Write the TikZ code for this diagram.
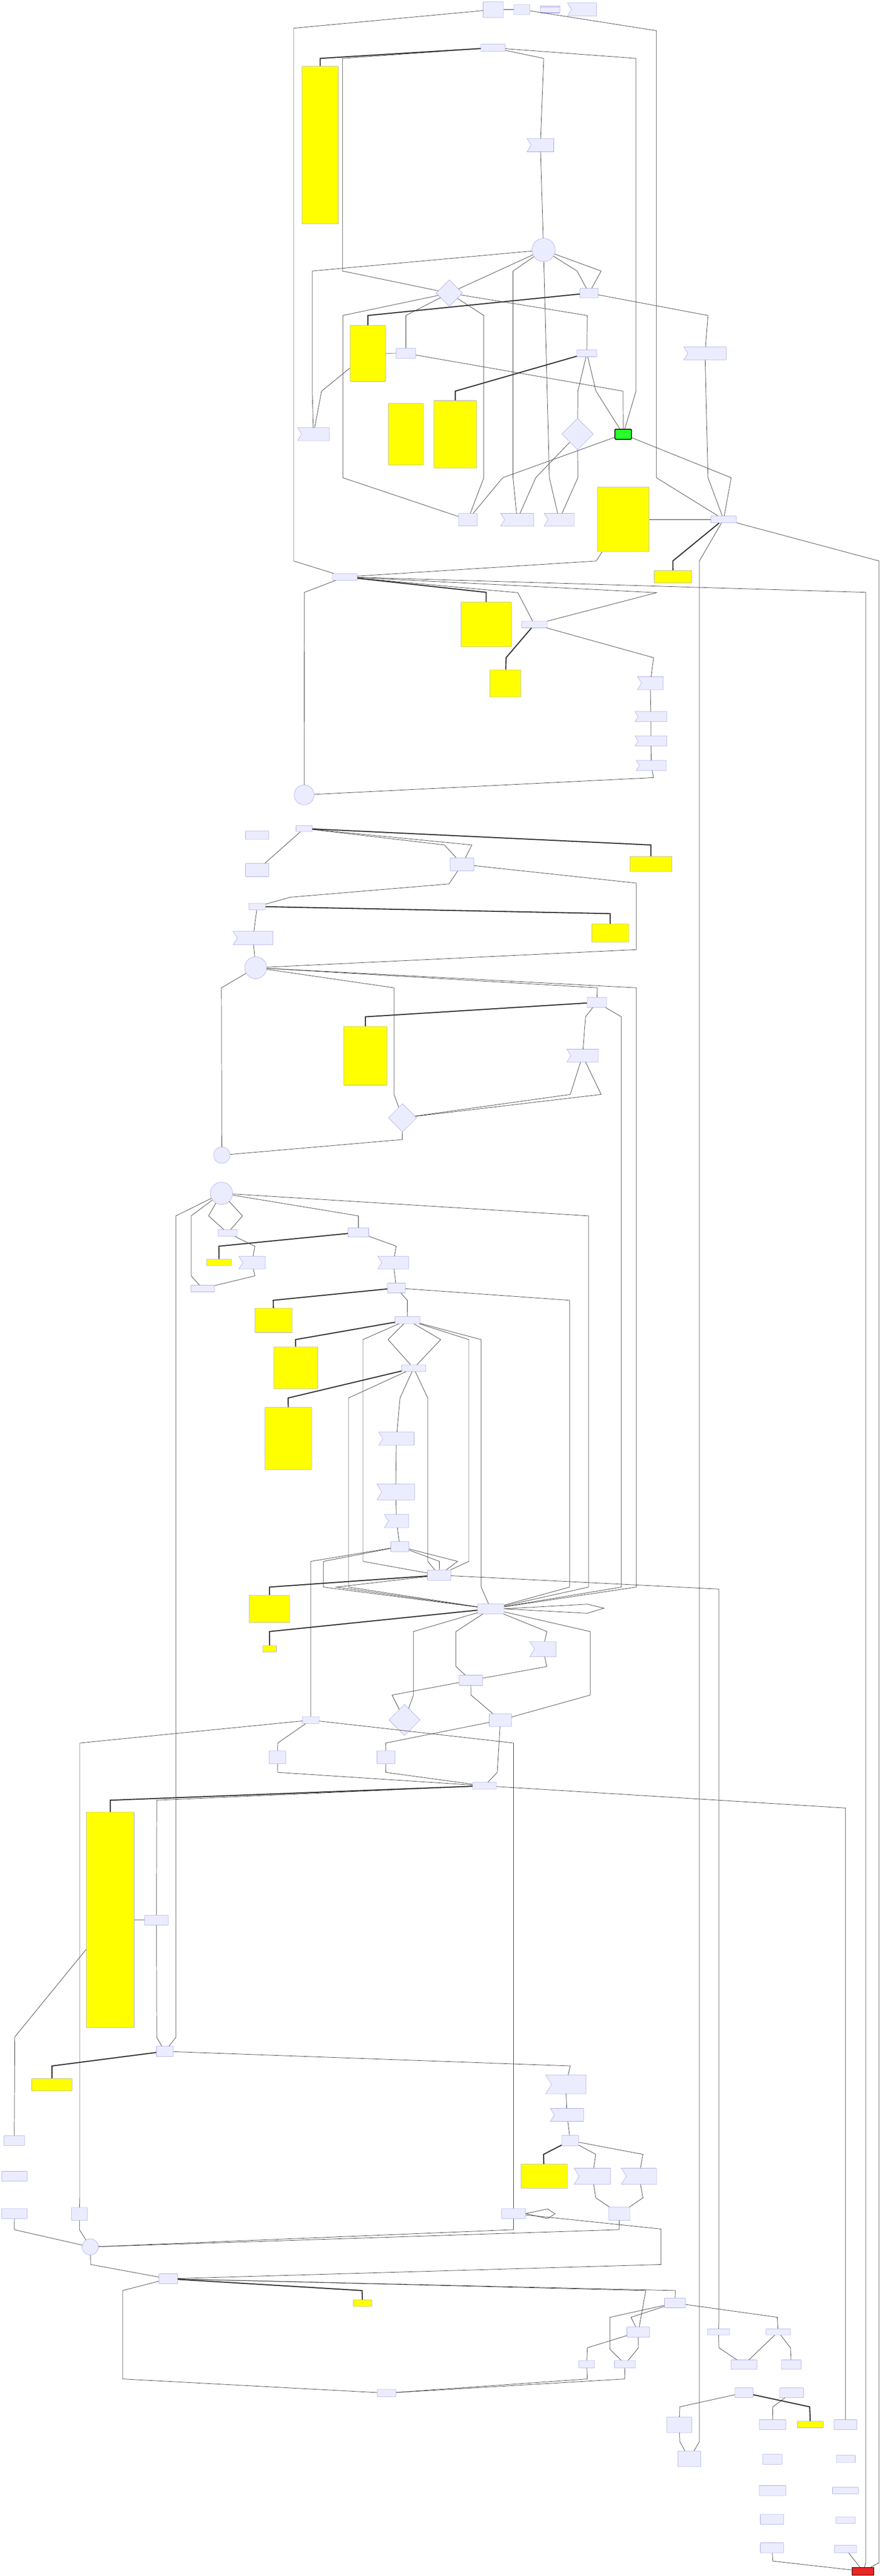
\documentclass[tikz,border=0pt]{standalone}
\usetikzlibrary{shapes.geometric}
\definecolor{lav}{RGB}{236,236,255}
\definecolor{lavd}{RGB}{168,168,232}
\definecolor{ln}{RGB}{51,51,51}
\definecolor{yel}{RGB}{255,255,0}
\definecolor{grn}{RGB}{40,255,40}
\definecolor{rd}{RGB}{230,40,40}
\tikzset{
 bx/.style={draw=lavd,fill=lav,line width=0.8pt,rounded corners=1pt,inner sep=0pt},
 yb/.style={draw=lavd,fill=yel,line width=0.8pt,rounded corners=1pt,inner sep=0pt},
 gbx/.style={draw=black,fill=grn,line width=2pt,rounded corners=2pt,inner sep=0pt},
 rbx/.style={draw=black,fill=rd,line width=1.2pt,inner sep=0pt},
 flagst/.style={draw=lavd,fill=lav,line width=0.8pt},
 e/.style={draw=ln,line width=0.9pt},
 t/.style={draw=ln,line width=2.6pt},
}
\newcommand\Nbox[5]{\node[bx,minimum width=#4*4pt,minimum height=#5*4pt] (#1) at (#2,#3) {};}
\newcommand\Nyel[5]{\node[yb,minimum width=#4*4pt,minimum height=#5*4pt] (#1) at (#2,#3) {};}
\newcommand\Ngreen[5]{\node[gbx,minimum width=#4*4pt,minimum height=#5*4pt] (#1) at (#2,#3) {};}
\newcommand\Nred[5]{\node[rbx,minimum width=#4*4pt,minimum height=#5*4pt] (#1) at (#2,#3) {};}
\newcommand\Nflag[5]{\node[inner sep=0pt,minimum width=#4*4pt,minimum height=#5*4pt] (#1) at (#2,#3) {};
 \path[flagst] (#1.north west) -- (#1.north east) -- (#1.south east) -- (#1.south west) -- ([xshift=#5*1.3pt]#1.west) -- cycle;}
\newcommand\Ncirc[4]{\node[circle,draw=lavd,fill=lav,line width=0.8pt,inner sep=0pt,minimum size=#4*4pt] (#1) at (#2,#3) {};}
\newcommand\Ndia[5]{\node[diamond,aspect=1,draw=lavd,fill=lav,line width=0.8pt,inner sep=0pt,minimum width=#4*4pt,minimum height=#5*4pt] (#1) at (#2,#3) {};}
\begin{document}
\begin{tikzpicture}[x=4pt,y=-4pt]
\useasboundingbox[fill=white] (0,0) rectangle (536.25,1553);
% nodes
\Nbox{n1}{297.3}{5.8}{12.2}{9.5}
\Nbox{n2}{314.5}{5.75}{9.6}{6}
\Nbox{n3}{331.6}{5.7}{11.8}{4.4}
\draw[lavd,line width=0.6pt] ([yshift=-2.5pt]n3.north west) -- ([yshift=-2.5pt]n3.north east) ([yshift=2.5pt]n3.south west) -- ([yshift=2.5pt]n3.south east);
\Nflag{n4}{350.8}{5.7}{17.5}{7.8}
\Nbox{n5}{297.1}{28.8}{14.7}{4.3}
\Nyel{Y1}{193}{87.5}{22}{95}
\Nflag{n6}{325.7}{87.5}{16}{7.8}
\Ncirc{C1}{327.6}{150.7}{14}
\Ndia{D1}{270.8}{176.7}{16}{16}
\Nbox{B1}{355}{176.7}{11}{5.7}
\Nyel{Y2}{221.7}{213.1}{21.4}{33.8}
\Nbox{B2}{244.6}{213}{11.7}{6.1}
\Nbox{B3}{353.7}{213}{11.9}{4.2}
\Nflag{F2}{424.9}{213}{25.5}{7.7}
\Nflag{F1}{188.9}{261.7}{19}{7.7}
\Nyel{Y3}{244.6}{261.8}{21}{37.2}
\Nyel{Y4}{274.4}{261.9}{25.8}{40.8}
\Ndia{D2}{348.1}{261.7}{19}{19}
\Ngreen{G}{375.6}{261.8}{10}{6.1}
\Nbox{B5}{282}{313.3}{11.2}{7.5}
\Nflag{F3}{311.7}{313.3}{19.8}{7.5}
\Nflag{F4}{337}{313.3}{18}{7.5}
\Nyel{Y5}{375.6}{313.1}{31}{39}
\Nbox{B6}{436.1}{313.1}{15.3}{4.2}
\Nbox{B7}{207.8}{347.8}{15}{4}
\Nyel{Y6}{405.6}{347.7}{22.6}{7.6}
\Nyel{Y7}{293}{376.5}{30.4}{27}
\Nbox{B8}{322.1}{376.5}{15.4}{3.9}
\Nyel{Y8}{304.6}{412}{18.6}{16.4}
\Nflag{F5}{391.9}{411.9}{15.4}{7.8}
\Nflag{F6}{392.3}{432}{19.1}{6}
\Nflag{F7}{392.3}{446.7}{19}{6}
\Nflag{F8}{392.5}{461.5}{18}{6}
\Ncirc{C2}{183.3}{479.2}{12}
\Nbox{B12}{155}{503.5}{14}{5}
\Nbox{B9}{183.3}{499.5}{9.7}{3.7}
\Nbox{B11}{155}{524.5}{14}{8}
\Nbox{B10}{278.5}{521.1}{14.3}{7.8}
\Nyel{Y9}{392.3}{520.9}{25.3}{9.2}
\Nbox{B13}{155}{546.5}{10}{4}
\Nyel{Y10}{367.8}{562.5}{22.3}{11.1}
\Nflag{F9}{152.5}{565.5}{24}{8}
\Ncirc{C3}{154.1}{583.4}{13.2}
\Nbox{B14}{359.7}{604.3}{11.8}{6}
\Nyel{Y11}{220.2}{636.5}{26.1}{35.5}
\Nflag{F10}{351.1}{636.4}{18.8}{7.6}
\Ndia{D3}{242.6}{673.9}{17}{17}
\Ncirc{C4}{133.7}{696.4}{9.8}
\Ncirc{C5}{133.5}{719.4}{13.4}
\Nbox{B16}{137.2}{743.3}{11.4}{4}
\Nbox{B17}{216}{743}{12.5}{5.5}
\Nyel{Y12}{132}{761.1}{14.9}{4}
\Nflag{F11}{151.9}{761.2}{15.8}{7.6}
\Nflag{F12}{237}{761.2}{18.5}{7.6}
\Nbox{B15}{122.1}{776.8}{14.2}{4}
\Nbox{B18}{238.9}{776.5}{10.7}{5.9}
\Nyel{Y13}{164.9}{796}{22.5}{14.7}
\Nbox{B19}{245.6}{795.8}{15.1}{4.3}
\Nyel{Y14}{178.3}{824.6}{26.5}{25.3}
\Nbox{B20}{249.3}{824.8}{14.5}{4}
\Nyel{Y15}{173.8}{867.2}{28.3}{37.5}
\Nflag{F13}{238.9}{867.3}{21.2}{7.8}
\Nflag{F14}{238.5}{899.5}{22.6}{9.4}
\Nflag{F15}{239}{917}{14.5}{7.8}
\Nbox{B21}{241}{932.4}{10.8}{6.2}
\Nbox{B22}{264.7}{949.6}{14.1}{6.2}
\Nyel{Y16}{162.4}{969.9}{24.4}{16.5}
\Nbox{B23}{295.8}{969.9}{16}{6}
\Nyel{Y17}{162.5}{994}{8.3}{4}
\Nflag{F16}{327.2}{994.2}{15.8}{9.1}
\Nbox{B24}{283.8}{1013}{14.1}{6.2}
\Nbox{B27}{187.3}{1037}{10}{4.1}
\Ndia{D4}{243.8}{1036.9}{18.8}{18.8}
\Nbox{B25}{301.6}{1037}{13.4}{7.7}
\Nbox{B28}{167.2}{1059.4}{10}{7.9}
\Nbox{B29}{232.6}{1059.4}{10.8}{7.9}
\Nbox{B30}{292}{1076.6}{14.3}{4.1}
\Nyel{Y18}{66.5}{1157.4}{28.8}{130}
\Nbox{B31}{94.3}{1157.6}{14.3}{6}
\Nbox{B32}{99.3}{1236.7}{10.1}{6.2}
\Nyel{Y19}{31.3}{1256.8}{24.4}{7.6}
\Nflag{F17}{341}{1256.6}{24.2}{11.3}
\Nflag{F18}{341.7}{1275}{19.9}{7.7}
\Nbox{B33}{8.6}{1290.5}{12.4}{6}
\Nbox{B34}{343.7}{1290.5}{10.2}{6.3}
\Nbox{B39}{8.7}{1312}{15.4}{6}
\Nyel{Y20}{328}{1312}{28}{14.6}
\Nflag{F19}{357}{1312}{21.9}{9.6}
\Nflag{F20}{385.1}{1312}{21.2}{9.6}
\Nbox{B40}{8.7}{1334.5}{15.4}{6}
\Nbox{B41}{47.9}{1334.7}{9.6}{7.7}
\Nbox{B36}{309.5}{1334.5}{14.4}{6}
\Nbox{B35}{373.3}{1334.6}{12.6}{8}
\Ncirc{C6}{54.4}{1354.6}{9.7}
\Nbox{B38}{101.4}{1373.8}{11.3}{6}
\Nyel{Y21}{218.5}{1388.5}{11}{4}
\Nbox{B43}{406.8}{1388.4}{12.6}{5.8}
\Nbox{B45}{384.7}{1405.9}{13.7}{6.1}
\Nbox{B49}{433.1}{1405.8}{13.3}{3.7}
\Nbox{B48}{469}{1405.8}{14.7}{3.7}
\Nbox{B47}{353.6}{1425.3}{9.6}{4.4}
\Nbox{B46}{376.7}{1425.3}{12.6}{4.4}
\Nbox{B50}{448.4}{1425.5}{15.7}{5.6}
\Nbox{B51}{476.9}{1425.5}{12}{5.6}
\Nbox{B42}{233}{1442.7}{11.3}{4.4}
\Nbox{B52}{448.4}{1442.5}{10.9}{5.9}
\Nbox{B53}{477.1}{1442.5}{14.4}{5.9}
\Nbox{B44}{409.4}{1461.9}{15}{9.4}
\Nbox{B55}{465.6}{1461.7}{16.1}{6}
\Nyel{Y22}{488.4}{1461.7}{15.7}{4}
\Nbox{B56}{509.6}{1461.7}{13.7}{6}
\Nbox{B54}{415.5}{1482.4}{13.7}{9.4}
\Nbox{B57}{465.5}{1482.6}{11.6}{6.1}
\Nbox{B61}{509.8}{1482.4}{11.3}{4.4}
\Nbox{B58}{465.6}{1501.5}{16.1}{6.1}
\Nbox{B62}{509.6}{1501.5}{15.7}{4}
\Nbox{B59}{465.3}{1518.8}{14}{6.1}
\Nbox{B63}{509.6}{1519.3}{11.6}{4}
\Nbox{B60}{465.3}{1536}{14}{6.1}
\Nbox{B64}{509.6}{1536.7}{13.3}{4.6}
\Nred{R}{520.2}{1550.1}{13}{4.6}
% edges
\draw[e] (n1) -- (177,17) -- (177,338.2) -- (B7);
\draw[e] (n1) -- (n2);
\draw[e] (n2) -- (395.6,18.5) -- (395.6,288) -- (B6);
\draw[t] (n5) -- (193,35.2) -- (Y1);
\draw[e] (n5) -- (206.5,35.2) -- (206.5,163.4) -- (D1);
\draw[e] (n5) -- (327.7,35.2) -- (n6);
\draw[e] (n6) -- (C1);
\draw[e] (n5) -- (383.3,35.2) -- (383.3,235.8) -- (G);
\draw[e] (C1) -- (188.2,163.4) -- (188.2,235.8) -- (F1);
\draw[e] (Y2) -- (193.8,235.8) -- (F1);
\draw[e] (C1) -- (D1);
\draw[t] (B1) -- (221.7,190.2) -- (Y2);
\draw[e] (D1) -- (206.6,190.2) -- (206.6,288) -- (B5);
\draw[e] (D1) -- (244.6,190.2) -- (B2);
\draw[e] (B2) -- (Y2);
\draw[e] (D1) -- (291.6,190.2) -- (291.6,288) -- (B5);
\draw[e] (D1) -- (353.9,190.2) -- (B3);
\draw[e] (B2) -- (375.5,235.8) -- (G);
\draw[t] (B3) -- (274.4,235.8) -- (Y4);
\draw[e] (B3) -- (348.3,235.8) -- (D2);
\draw[e] (B3) -- (359.2,235.8) -- (G);
\draw[e] (C1) -- (347.8,163.4) -- (B1);
\draw[e] (C1) -- (362.3,163.4) -- (B1);
\draw[e] (B1) -- (426.7,190.2) -- (F2);
\draw[e] (F2) -- (426.7,288) -- (B6);
\draw[e] (G) -- (440.7,288) -- (B6);
\draw[e] (G) -- (303,288) -- (B5);
\draw[e] (C1) -- (309.2,163.4) -- (309.2,288) -- (F3);
\draw[e] (D2) -- (322.9,288) -- (F3);
\draw[e] (C1) -- (331.1,288) -- (F4);
\draw[e] (D2) -- (348.3,288) -- (F4);
\draw[e] (Y5) -- (B6);
\draw[e] (Y5) -- (359.3,338.2) -- (B7);
\draw[t] (B6) -- (405.5,338.2) -- (Y6);
\draw[e] (B6) -- (421.5,338.2) -- (421.5,1472) -- (B54);
\draw[e] (B6) -- (529.8,338.2) -- (529.8,1545) -- (R);
\draw[e] (B7) -- (521.8,357.1) -- (521.8,1545) -- (R);
\draw[t] (B7) -- (293,357.1) -- (Y7);
\draw[e] (B7) -- (312.1,357.3) -- (B8);
\draw[e] (B7) -- (395.7,357.3) -- (B8);
\draw[e] (B7) -- (183.5,357.1) -- (C2);
\draw[t] (B8) -- (305,396.5) -- (Y8);
\draw[e] (B8) -- (393.9,396.5) -- (F5);
\draw[e] (F5) -- (F6) -- (F7) -- (F8);
\draw[e] (F8) -- (393.9,468.8) -- (C2);
\draw[t] (B9) -- (392.3,509.4) -- (Y9);
\draw[e] (B9) -- (267.9,509.4) -- (B10);
\draw[e] (B9) -- (284.4,509.4) -- (B10);
\draw[e] (B9) -- (B11);
\draw[e] (B10) -- (270.6,532.9) -- (175,540.9) -- (B13);
\draw[t] (B13) -- (367.8,550.8) -- (Y10);
\draw[e] (B13) -- (F9);
\draw[e] (F9) -- (C3);
\draw[e] (B10) -- (383.5,532.4) -- (383.5,572.5) -- (C3);
\draw[e] (C3) -- (237.5,595.5) -- (237.5,659.8) -- (D3);
\draw[e] (C3) -- (360,595.5) -- (B14);
\draw[e] (C3) -- (383.5,595.5) -- (383.5,956.8) -- (B23);
\draw[e] (C3) -- (133.5,595.5) -- (C4);
\draw[t] (B14) -- (220.2,613) -- (Y11);
\draw[e] (B14) -- (352.9,613) -- (F10);
\draw[e] (F10) -- (343.7,659.8) -- (D3);
\draw[e] (F10) -- (362.3,659.8) -- (D3);
\draw[e] (D3) -- (242.4,687) -- (C4);
\draw[e] (B14) -- (374.5,613) -- (374.5,956.8) -- (B23);
\draw[e] (C5) -- (106,733) -- (106,1228.3) -- (B32);
\draw[e] (C5) -- (115.2,733) -- (115.2,769.2) -- (B15);
\draw[e] (C5) -- (125.7,733) -- (B16);
\draw[e] (C5) -- (146.2,733) -- (B16);
\draw[e] (B16) -- (153.6,751.3) -- (F11);
\draw[e] (F11) -- (153.6,769.2) -- (B15);
\draw[e] (C5) -- (216,733) -- (B17);
\draw[t] (B17) -- (131.9,751.3) -- (Y12);
\draw[e] (B17) -- (238.8,751.3) -- (F12);
\draw[e] (F12) -- (B18);
\draw[e] (C5) -- (354.7,733) -- (354.7,956.8) -- (B23);
\draw[t] (B18) -- (164.7,783.9) -- (Y13);
\draw[e] (B18) -- (343.3,783.9) -- (343.3,956.8) -- (B23);
\draw[e] (B18) -- (245.5,783.9) -- (B19);
\draw[t] (B19) -- (178.1,807.6) -- (Y14);
\draw[e] (B19) -- (218.7,807.6) -- (218.7,941.3) -- (B22);
\draw[e] (B19) -- (233.9,807.6) -- (B20);
\draw[e] (B19) -- (265.6,807.6) -- (B20);
\draw[e] (B19) -- (282.6,807.6) -- (282.6,941.3) -- (B22);
\draw[e] (B19) -- (290,807.6) -- (290,956.8) -- (B23);
\draw[t] (B20) -- (173.7,842.8) -- (Y15);
\draw[e] (B20) -- (210,842.8) -- (210,956.8) -- (B23);
\draw[e] (B20) -- (241.1,842.8) -- (F13);
\draw[e] (F13) -- (F14) -- (F15) -- (B21);
\draw[e] (B20) -- (257.8,842.8) -- (257.8,941.3) -- (B22);
\draw[e] (B21) -- (264.8,941.3) -- (B22);
\draw[e] (B21) -- (275.8,941.3) -- (B22);
\draw[e] (B21) -- (187.3,941.3) -- (B27);
\draw[e] (B21) -- (195,941.3) -- (195,956.8) -- (B23);
\draw[e] (B22) -- (202.8,956.8) -- (B23);
\draw[t] (B22) -- (162.4,956.8) -- (Y16);
\draw[e] (B22) -- (433.3,958) -- (433.3,1398) -- (B49);
\draw[e] (B23.east) -- (354,967.1) -- (364,969.5) -- (354,972.6) -- (B23.east);
\draw[t] (B23) -- (162.4,983.6) -- (Y17);
\draw[e] (B23) -- (249.2,983.6) -- (249.2,1021.9) -- (D4);
\draw[e] (B23) -- (274.8,983.6) -- (274.8,1004.7) -- (B24);
\draw[e] (B23) -- (329.6,983.6) -- (F16);
\draw[e] (F16) -- (329.6,1004.7) -- (B24);
\draw[e] (B23) -- (355.7,983.6) -- (355.7,1021.9) -- (B25);
\draw[e] (B24) -- (236.3,1021.9) -- (D4);
\draw[e] (B24) -- (283.9,1021.9) -- (B25);
\draw[e] (B25) -- (232.5,1050.8) -- (B29);
\draw[e] (B25) -- (299.7,1068.5) -- (B30);
\draw[e] (B27) -- (167.4,1050.8) -- (B28);
\draw[e] (B27) -- (48.1,1050.8) -- (48.1,1325) -- (B41);
\draw[e] (B27) -- (309.5,1050.8) -- (309.5,1330) -- (B36);
\draw[e] (B28) -- (167.4,1068.5) -- (B30);
\draw[e] (B29) -- (232.5,1068.5) -- (B30);
\draw[t] (B30) -- (66.5,1085.3) -- (Y18);
\draw[e] (B30) -- (94.5,1085.3) -- (B31);
\draw[e] (B30) -- (509.6,1090) -- (B56);
\draw[e] (B31) -- (Y18);
\draw[e] (B31) -- (94.5,1228.3) -- (B32);
\draw[e] (Y18) -- (8.9,1228) -- (B33);
\draw[t] (B32) -- (31.3,1245.5) -- (Y19);
\draw[e] (B32) -- (343.7,1245.5) -- (F17);
\draw[e] (F17) -- (F18) -- (B34);
\draw[t] (B34) -- (327.6,1298.8) -- (Y20);
\draw[e] (B34) -- (359.1,1298.8) -- (F19);
\draw[e] (B34) -- (387.5,1298.8) -- (F20);
\draw[e] (F19) -- (359.1,1325) -- (B35);
\draw[e] (F20) -- (387.5,1325) -- (B35);
\draw[e] (B36.east) -- (330,1331.7) -- (334.5,1334.6) -- (330,1337.5) -- (B36.east);
\draw[e] (B36) -- (309.5,1344.2) -- (C6);
\draw[e] (B35) -- (373.1,1344.2) -- (C6);
\draw[e] (B36) -- (398.4,1343.8) -- (398.4,1365.2) -- (B38);
\draw[e] (B40) -- (8.6,1344.2) -- (C6);
\draw[e] (B41) -- (47.9,1344.2) -- (C6);
\draw[e] (C6) -- (54.7,1365.2) -- (B38);
\draw[t] (B38) -- (218.2,1380.9) -- (Y21);
\draw[e] (B38) -- (73.9,1380.9) -- (73.9,1434.2) -- (B42);
\draw[e] (B38) -- (389.2,1380.9) -- (B45);
\draw[e] (B38) -- (407,1380.9) -- (B43);
\draw[e] (B43) -- (367.7,1397) -- (367.7,1416.4) -- (B46);
\draw[e] (B43) -- (380.3,1397) -- (B45);
\draw[e] (B43) -- (468.5,1397) -- (B48);
\draw[e] (B45) -- (354,1415.4) -- (B47);
\draw[e] (B45) -- (384.8,1415.4) -- (B46);
\draw[e] (B47) -- (354,1434.2) -- (B42);
\draw[e] (B46) -- (376.5,1434.2) -- (B42);
\draw[e] (B49) -- (433.3,1415.4) -- (B50);
\draw[e] (B48) -- (B50);
\draw[e] (B48) -- (476.4,1415.4) -- (B51);
\draw[e] (B52) -- (409.7,1451) -- (B44);
\draw[e] (B44) -- (409.7,1471.9) -- (B54);
\draw[t] (B52) -- (488,1451) -- (Y22);
\draw[e] (B53) -- (465.8,1451) -- (B55);
\draw[e] (B60) -- (465.8,1544) -- (R);
\draw[e] (B64) -- (R);
\end{tikzpicture}
\end{document}
